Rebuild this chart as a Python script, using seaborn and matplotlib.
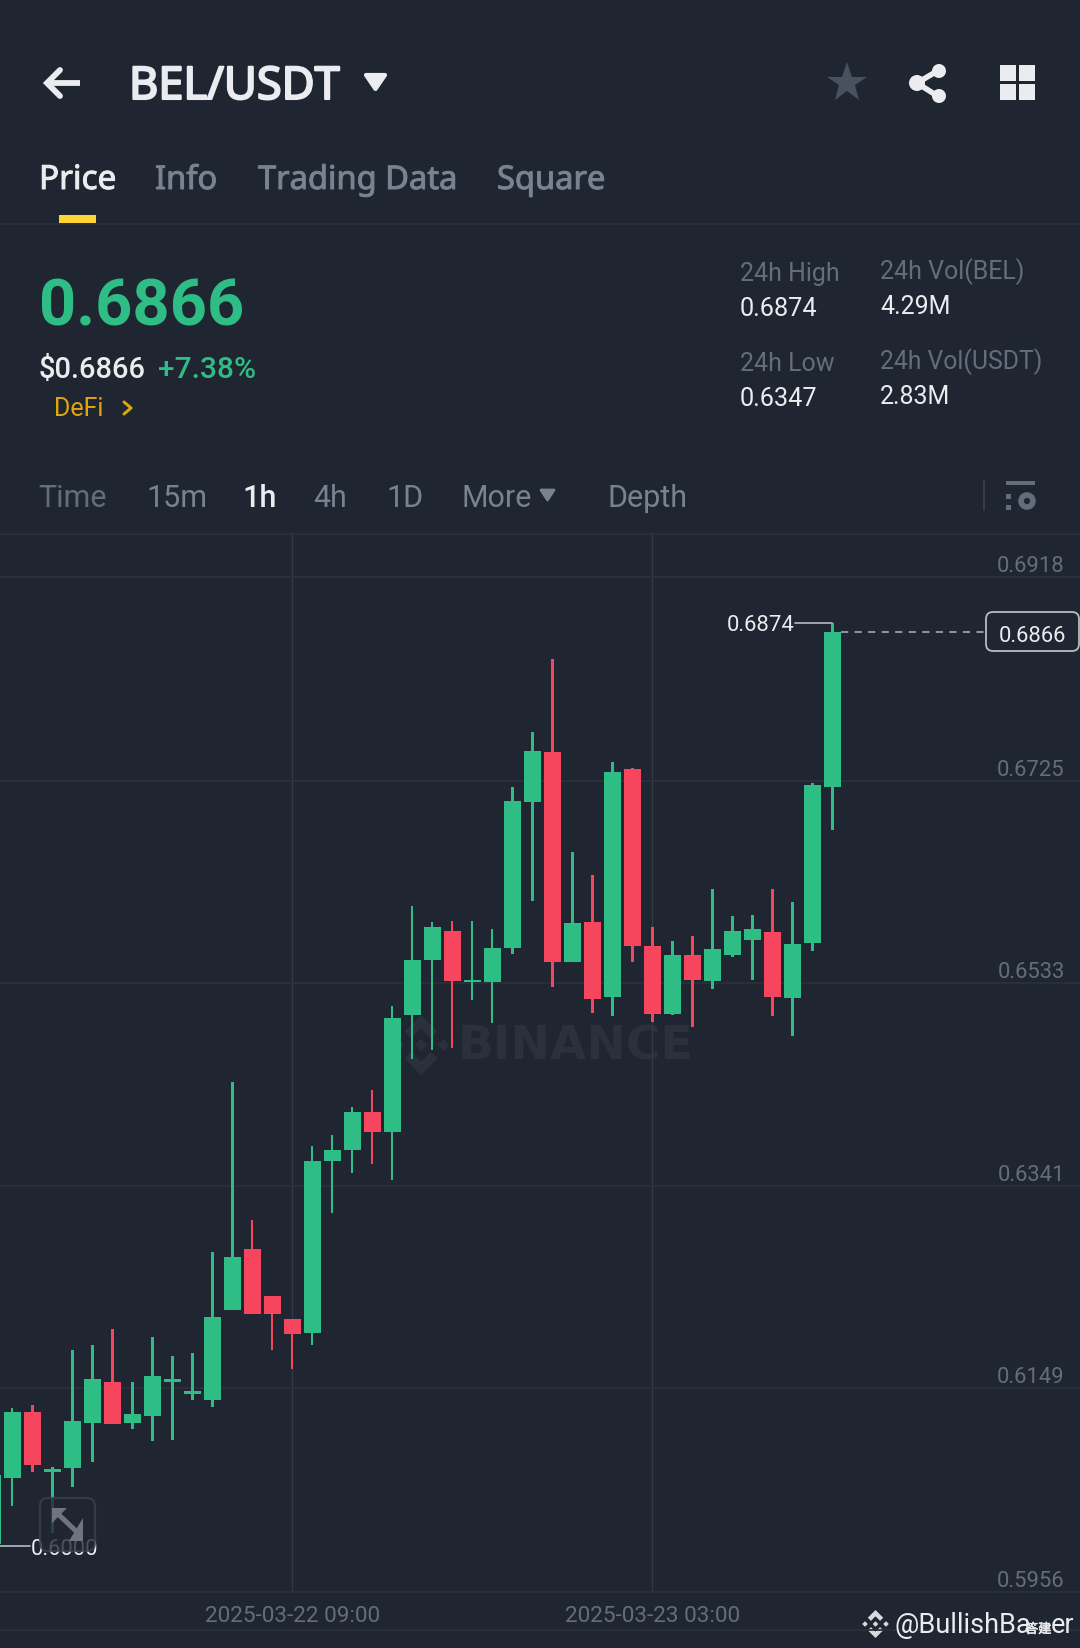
import matplotlib
matplotlib.use("Agg")
import matplotlib.pyplot as plt
import matplotlib.patheffects as pe
from matplotlib.patches import FancyBboxPatch, Polygon, Rectangle, Circle
import seaborn as sns

# candles, oldest first
opens = [0.60018, 0.60645, 0.61262, 0.60693, 0.60734, 0.61166, 0.61554, 0.61166, 0.61225, 0.61547, 0.61434,
         0.61376, 0.62237, 0.62813, 0.62367, 0.62144, 0.62017, 0.63647, 0.63750, 0.64107, 0.63918, 0.65027,
         0.65548, 0.65829, 0.65337, 0.65340, 0.65668, 0.67051, 0.67518, 0.65529, 0.65908, 0.65198, 0.67357,
         0.65678, 0.65037, 0.65596, 0.65349, 0.65599, 0.65738, 0.65817, 0.65189, 0.65710, 0.67190]
closes = [0.60671, 0.61262, 0.60765, 0.60724, 0.61183, 0.61575, 0.61156, 0.61245, 0.61605, 0.61578, 0.61461,
          0.62165, 0.62734, 0.62196, 0.62196, 0.62007, 0.63647, 0.63750, 0.64107, 0.63918, 0.64996, 0.65548,
          0.65858, 0.65349, 0.65359, 0.65665, 0.67057, 0.67528, 0.65529, 0.65896, 0.65179, 0.67329, 0.65687,
          0.65037, 0.65596, 0.65359, 0.65656, 0.65826, 0.65845, 0.65198, 0.65697, 0.67209, 0.6866]
highs = [0.6072, 0.61307, 0.61328, 0.60748, 0.61849, 0.61904, 0.62055, 0.61554, 0.61973, 0.61794, 0.61825,
         0.62786, 0.64395, 0.63088, 0.62367, 0.62144, 0.63791, 0.63894, 0.64158, 0.64319, 0.65116, 0.66060,
         0.65908, 0.65921, 0.65921, 0.65845, 0.67190, 0.67711, 0.68399, 0.66574, 0.66357, 0.67430, 0.67370,
         0.65867, 0.65728, 0.65779, 0.66227, 0.65965, 0.65975, 0.66218, 0.66098, 0.67225, 0.6874]
lows = [0.6000, 0.60374, 0.60696, 0.60123, 0.60556, 0.60796, 0.61156, 0.61108, 0.60995, 0.61005, 0.61376,
        0.61314, 0.62237, 0.62196, 0.61856, 0.61674, 0.61897, 0.63149, 0.63534, 0.63616, 0.63468, 0.64608,
        0.64696, 0.64718, 0.65170, 0.64955, 0.65608, 0.66107, 0.65296, 0.65529, 0.65047, 0.65018, 0.65529,
        0.64958, 0.65027, 0.64917, 0.65277, 0.65577, 0.65359, 0.65018, 0.64829, 0.65637, 0.66780]

price_ticks = [0.6918, 0.6725, 0.6533, 0.6341, 0.6149, 0.5956]
price_labels = ["0.6918", "0.6725", "0.6533", "0.6341", "0.6149", "0.5956"]
time_idx = [15, 33]
time_labels = ["2025-03-22 09:00", "2025-03-23 03:00"]

BG = "#1f2631"
GREEN = "#2ebd85"
RED = "#f6465d"
GREY = "#7b828f"
DIM = "#666d7a"
WHITE = "#eaecef"
LINE = "#2a313c"

sns.set_theme(style="dark", rc={"figure.facecolor": BG, "axes.facecolor": BG})
plt.rcParams["font.family"] = ["Roboto", "DejaVu Sans"]

W, H = 1080, 1648
fig = plt.figure(figsize=(W / 100, H / 100), dpi=100, facecolor=BG)


def px_axes(zorder):
    a = fig.add_axes([0, 0, 1, 1], zorder=zorder)
    a.set_xlim(0, W)
    a.set_ylim(H, 0)
    a.axis("off")
    a.patch.set_alpha(0)
    return a


under = px_axes(0)
ax = fig.add_axes([0, (H - 1592) / H, 1, (1592 - 533.5) / H], zorder=1)
ax.patch.set_alpha(0)
ui = px_axes(2)

# candles: thin bars for wicks, wide ones for bodies
for name, col in [("up", GREEN), ("down", RED)]:
    idx = [i for i in range(len(opens)) if (closes[i] >= opens[i]) == (name == "up")]
    sns.barplot(x=idx, y=[highs[i] - lows[i] for i in idx], bottom=[lows[i] for i in idx],
                native_scale=True, width=0.11, color=col, saturation=1, errorbar=None,
                linewidth=0, ax=ax)
    sns.barplot(x=idx, y=[abs(closes[i] - opens[i]) for i in idx],
                bottom=[min(opens[i], closes[i]) for i in idx],
                native_scale=True, width=0.865, color=col, saturation=1, errorbar=None,
                linewidth=0, ax=ax)

ax.set_xlim(0.38, 54.38)
ax.set_ylim(0.5956, 0.69592)
ax.set_yticks(price_ticks)
ax.set_yticklabels([])
ax.set_xticks(time_idx)
ax.set_xticklabels(time_labels, fontsize=16.2, color=DIM)
ax.set_xlabel("")
ax.set_ylabel("")
ax.tick_params(axis="x", length=0, pad=10)
ax.tick_params(axis="y", length=0)
ax.grid(True, axis="y", color=LINE, lw=1.3)
ax.grid(True, axis="x", color="#343a45", lw=1.0)
ax.set_axisbelow(True)
sns.despine(ax=ax, left=True, right=True)
for s in ["top", "bottom"]:
    ax.spines[s].set_visible(True)
    ax.spines[s].set_color(LINE)
    ax.spines[s].set_linewidth(1.3)

for p, lab in zip(price_ticks, price_labels):
    ax.annotate(lab, (1, p), xycoords=("axes fraction", "data"), xytext=(-11, 3.6),
                textcoords="offset points", ha="right", va="baseline", fontsize=15.8, color=DIM)


def txt(a, x, y, s, size, color, weight="normal", family=None, stroke=0):
    t = a.text(x, y, s, fontsize=size, color=color, fontweight=weight, ha="left", va="baseline",
               family=family if family else plt.rcParams["font.family"])
    # Noto Sans has only the regular cut here, thicken it a bit
    if stroke:
        t.set_path_effects([pe.withStroke(linewidth=stroke, foreground=color)])


def binance_logo(a, cx, cy, r, color):
    # centre and side diamonds, plus the two chevrons
    u = r / 4
    for dx, dy in [(0, 0), (-3 * u, 0), (3 * u, 0)]:
        a.add_patch(Polygon([(cx + dx, cy + dy - u * 0.8), (cx + dx + u * 0.8, cy + dy),
                             (cx + dx, cy + dy + u * 0.8), (cx + dx - u * 0.8, cy + dy)], color=color, lw=0))
    for sgn in (-1, 1):
        a.add_patch(Polygon([(cx, cy + sgn * 4 * u), (cx + 2.2 * u, cy + sgn * 1.8 * u),
                             (cx + 1.3 * u, cy + sgn * 0.9 * u), (cx, cy + sgn * 2.2 * u),
                             (cx - 1.3 * u, cy + sgn * 0.9 * u), (cx - 2.2 * u, cy + sgn * 1.8 * u)],
                            color=color, lw=0))


# watermark sits behind the candles
binance_logo(under, 421, 1045, 30, "#2a313c")
txt(under, 458, 1060, "BINANCE", 33.8, "#2a313c", "bold", family="DejaVu Sans")

# header
ui.plot([47, 80], [83, 83], color=WHITE, lw=4.2, solid_capstyle="butt")
ui.plot([60, 47, 60], [70, 83, 96], color=WHITE, lw=4.2, solid_joinstyle="miter")
txt(ui, 129, 99, "BEL/USDT", 32.5, WHITE, family="Noto Sans", stroke=1.5)
ui.add_patch(Polygon([(366, 75), (385, 75), (375.5, 89)], color=WHITE, lw=3, joinstyle="round"))
ui.plot([847], [83], marker="*", ms=30, color="#4a515e", mew=0)
ui.plot([939, 917, 939], [70, 83, 97], color=WHITE, lw=4)
for cx, cy, r in [(939, 71, 7), (917, 83, 8), (939, 96, 7)]:
    ui.add_patch(Circle((cx, cy), r, color=WHITE, lw=0))
for x0, y0 in [(1000, 65), (1019, 65), (1000, 84), (1019, 84)]:
    ui.add_patch(Rectangle((x0, y0), 16, 16, color=WHITE, lw=0))

# tabs
txt(ui, 39, 189, "Price", 24, WHITE, family="Noto Sans", stroke=0.7)
txt(ui, 155, 189, "Info", 23.5, GREY, family="Noto Sans", stroke=0.7)
txt(ui, 258, 189, "Trading Data", 23.5, GREY, family="Noto Sans", stroke=0.7)
txt(ui, 497, 189, "Square", 23.5, GREY, family="Noto Sans", stroke=0.7)
ui.add_patch(Rectangle((59, 215), 37, 8, color="#fcd535", lw=0))
ui.plot([0, W], [223.5, 223.5], color=LINE, lw=1.3)

# price block
txt(ui, 39, 325, "0.6866", 46.8, GREEN, "bold")
txt(ui, 39, 378, "$0.6866", 21, WHITE, "medium")
txt(ui, 158, 378, "+7.38%", 21.5, GREEN, "medium")
txt(ui, 54, 416, "DeFi", 18, "#dfa50f")
ui.plot([124, 131, 124], [402, 408, 414], color="#dfa50f", lw=2.2)

txt(ui, 740, 281, "24h High", 18, DIM)
txt(ui, 740, 316, "0.6874", 18.2, WHITE)
txt(ui, 880, 279, "24h Vol(BEL)", 18, DIM)
txt(ui, 880, 314, "4.29M", 18, WHITE)
txt(ui, 740, 371, "24h Low", 18, DIM)
txt(ui, 740, 406, "0.6347", 18.2, WHITE)
txt(ui, 880, 369, "24h Vol(USDT)", 17.8, DIM)
txt(ui, 880, 404, "2.83M", 18, WHITE)

# interval row
for x, s in [(38, "Time"), (146, "15m"), (313, "4h"), (386, "1D"), (462, "More"), (607, "Depth")]:
    txt(ui, x, 507, s, 22, GREY if s != "Time" else DIM)
txt(ui, 242, 507, "1h", 22, WHITE, "medium")
ui.add_patch(Polygon([(541, 490), (554, 490), (547.5, 500)], color=GREY, lw=2, joinstyle="round"))
ui.plot([983.5, 983.5], [481, 510], color="#3a414c", lw=1.3)
ui.add_patch(Rectangle((1006, 481), 29, 4, color=DIM, lw=0))
ui.add_patch(Rectangle((1006, 494), 5, 5, color=DIM, lw=0))
ui.add_patch(Rectangle((1006, 505), 5, 5, color=DIM, lw=0))
ui.add_patch(Circle((1027, 501), 6, fill=False, ec=DIM, lw=4))

# high / last / low markers
txt(ui, 727, 630.7, "0.6874", 15.8, WHITE)
ui.plot([795, 832], [622.8, 622.8], color="#a9afb8", lw=1.3)
ui.plot([841, 986], [631.5, 631.5], color="#9aa0aa", lw=1.3, ls=(0, (4, 3.5)))
ui.add_patch(FancyBboxPatch((993, 619), 79, 25, boxstyle="round,pad=7", fc=BG, ec="#b7bcc4", lw=1.3))
txt(ui, 999, 641.7, "0.6866", 15.8, WHITE)
ui.plot([0, 30], [1546, 1546], color="#a9afb8", lw=1.3)
txt(ui, 30.5, 1555, "0.6000", 15.8, WHITE)

# expand button dims what is under it
ui.add_patch(FancyBboxPatch((48, 1506), 39, 37, boxstyle="round,pad=8", fc=BG, ec="#3a414c", lw=1.6,
                            alpha=0.78, zorder=5))
ui.plot([57, 78], [1513, 1533], color="#6f7480", lw=3.6, zorder=6)
ui.add_patch(Polygon([(52, 1508), (67, 1508), (52, 1523)], color="#6f7480", lw=0, zorder=6))
ui.add_patch(Polygon([(83, 1518), (83, 1541), (69, 1541)], color="#6f7480", lw=0, zorder=6))

# footer
ui.plot([0, W], [1630, 1630], color=LINE, lw=1.3)
binance_logo(ui, 875.5, 1624, 14, "#d8dadd")
txt(ui, 894, 1632.7, "@BullishBa", 19.5, WHITE)
txt(ui, 1025, 1633, "答建", 9.5, WHITE, family="Noto Sans CJK SC", stroke=0.4)
txt(ui, 1051, 1632.7, "er", 19.5, WHITE)

fig.savefig("out.png", dpi=100, facecolor=BG)
